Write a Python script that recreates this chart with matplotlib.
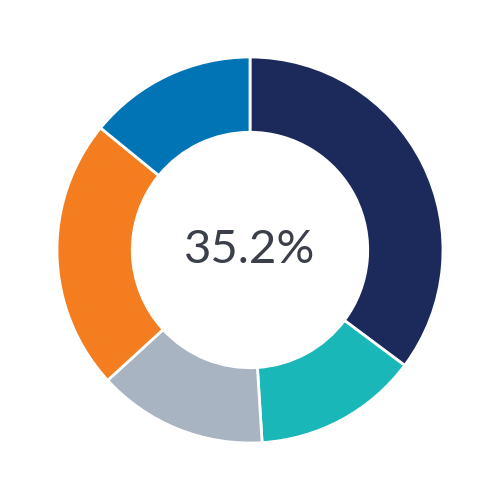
import matplotlib
matplotlib.use("Agg")
import matplotlib.pyplot as plt

labels = ["Navy", "Teal", "Gray", "Orange", "Blue"]
shares = [35.2, 13.8, 14.2, 22.7, 14.1]
colors = ["#1b2a5a", "#1ab7b9", "#a9b4c3", "#f47d20", "#0074b4"]
center_text = "35.2%"

fig = plt.figure(figsize=(5, 5), dpi=100)
ax = fig.add_axes([0, 0, 1, 1])
ax.pie(shares, colors=colors, startangle=90, counterclock=False,
       radius=1.0,
       wedgeprops=dict(width=0.39, edgecolor="white", linewidth=2))
lim = 250 / 193
ax.set_xlim(-lim, lim)
ax.set_ylim(-lim, lim)
ax.set_aspect("equal")
ax.axis("off")
ax.text(0, 0, center_text, ha="center", va="center", fontsize=34,
        family="Lato", color="#3a3f4a")
fig.savefig("out.png", dpi=100, facecolor="white")
